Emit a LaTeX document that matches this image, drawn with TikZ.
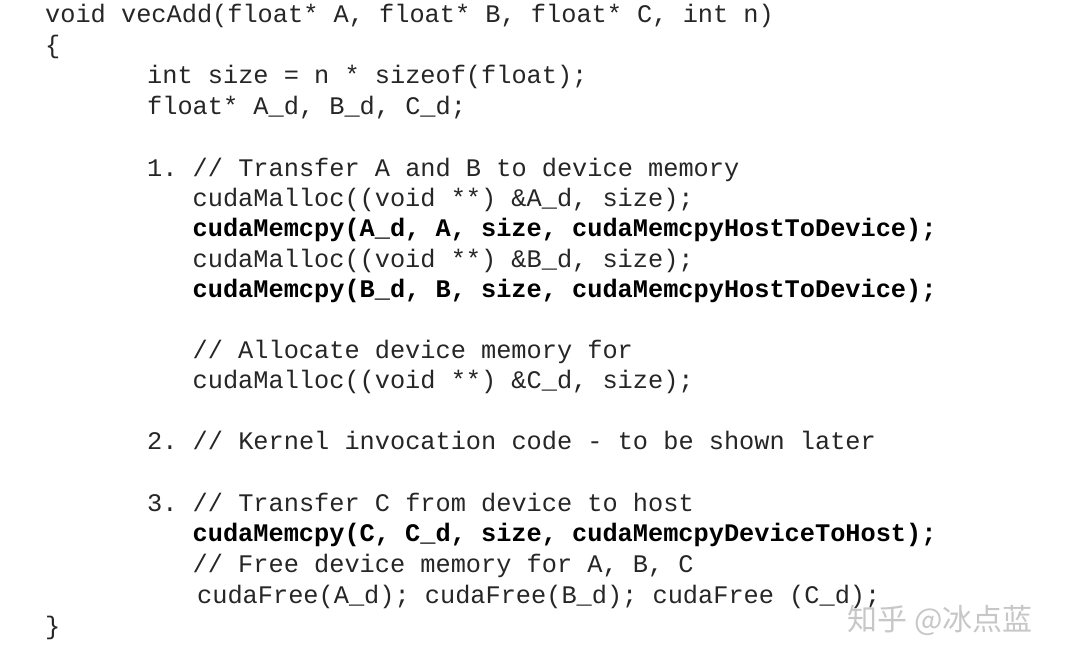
\documentclass[tikz,border=0pt]{standalone}
\usepackage{fontspec}
\setmonofont{Liberation Mono}
\newfontfamily\cjkfont{Noto Sans CJK SC}
\usepackage{tikz}
\usetikzlibrary{positioning}

\begin{document}
\begin{tikzpicture}[
    x=1pt, y=-1pt,
    code/.style={anchor=base west, inner sep=0pt, font=\fontsize{25.3}{30}\selectfont\ttfamily, text=black!85},
    bcode/.style={code, font=\fontsize{25.3}{30}\selectfont\ttfamily\bfseries, text=black},
    wmark/.style={anchor=center, inner sep=0pt, font=\fontsize{30}{34}\selectfont\cjkfont, text=black!22},
]
\useasboundingbox[fill=white] (0,0) rectangle (1092,666);

% === Function head ===
\node[code] at (45, 23) (head) {void vecAdd(float* A, float* B, float* C, int n)};
\node[code] at (45, 54) (lbrace) {\{};
\node[code] at (147, 84) (size) {int size = n * sizeof(float);};
\node[code] at (147, 115) (decl) {float* A\_d, B\_d, C\_d;};

% === 1. Transfer A and B ===
\node[code] at (147, 176) (step1) {1. // Transfer A and B to device memory};
\node[code] at (192.5, 206) (mallocA) {cudaMalloc((void **) \&A\_d, size);};
\node[bcode] at (192.5, 236) (cpyA) {cudaMemcpy(A\_d, A, size, cudaMemcpyHostToDevice);};
\node[code] at (192.5, 267) (mallocB) {cudaMalloc((void **) \&B\_d, size);};
\node[bcode] at (192.5, 297) (cpyB) {cudaMemcpy(B\_d, B, size, cudaMemcpyHostToDevice);};

\node[code] at (192.5, 358) (allocC) {// Allocate device memory for};
\node[code] at (192.5, 388) (mallocC) {cudaMalloc((void **) \&C\_d, size);};

% === 2. Kernel ===
\node[code] at (147, 449) (step2) {2. // Kernel invocation code - to be shown later};

% === 3. Transfer C back ===
\node[code] at (147, 511) (step3) {3. // Transfer C from device to host};
\node[bcode] at (192.5, 541) (cpyC) {cudaMemcpy(C, C\_d, size, cudaMemcpyDeviceToHost);};
\node[code] at (192.5, 572) (freecom) {// Free device memory for A, B, C};
\node[code] at (197, 603) (free) {cudaFree(A\_d); cudaFree(B\_d); cudaFree (C\_d);};
\node[code] at (45, 634) (rbrace) {\}};

% watermark
\node[wmark] at (940, 620) (wm) {知乎 @冰点蓝};
\end{tikzpicture}
\end{document}
